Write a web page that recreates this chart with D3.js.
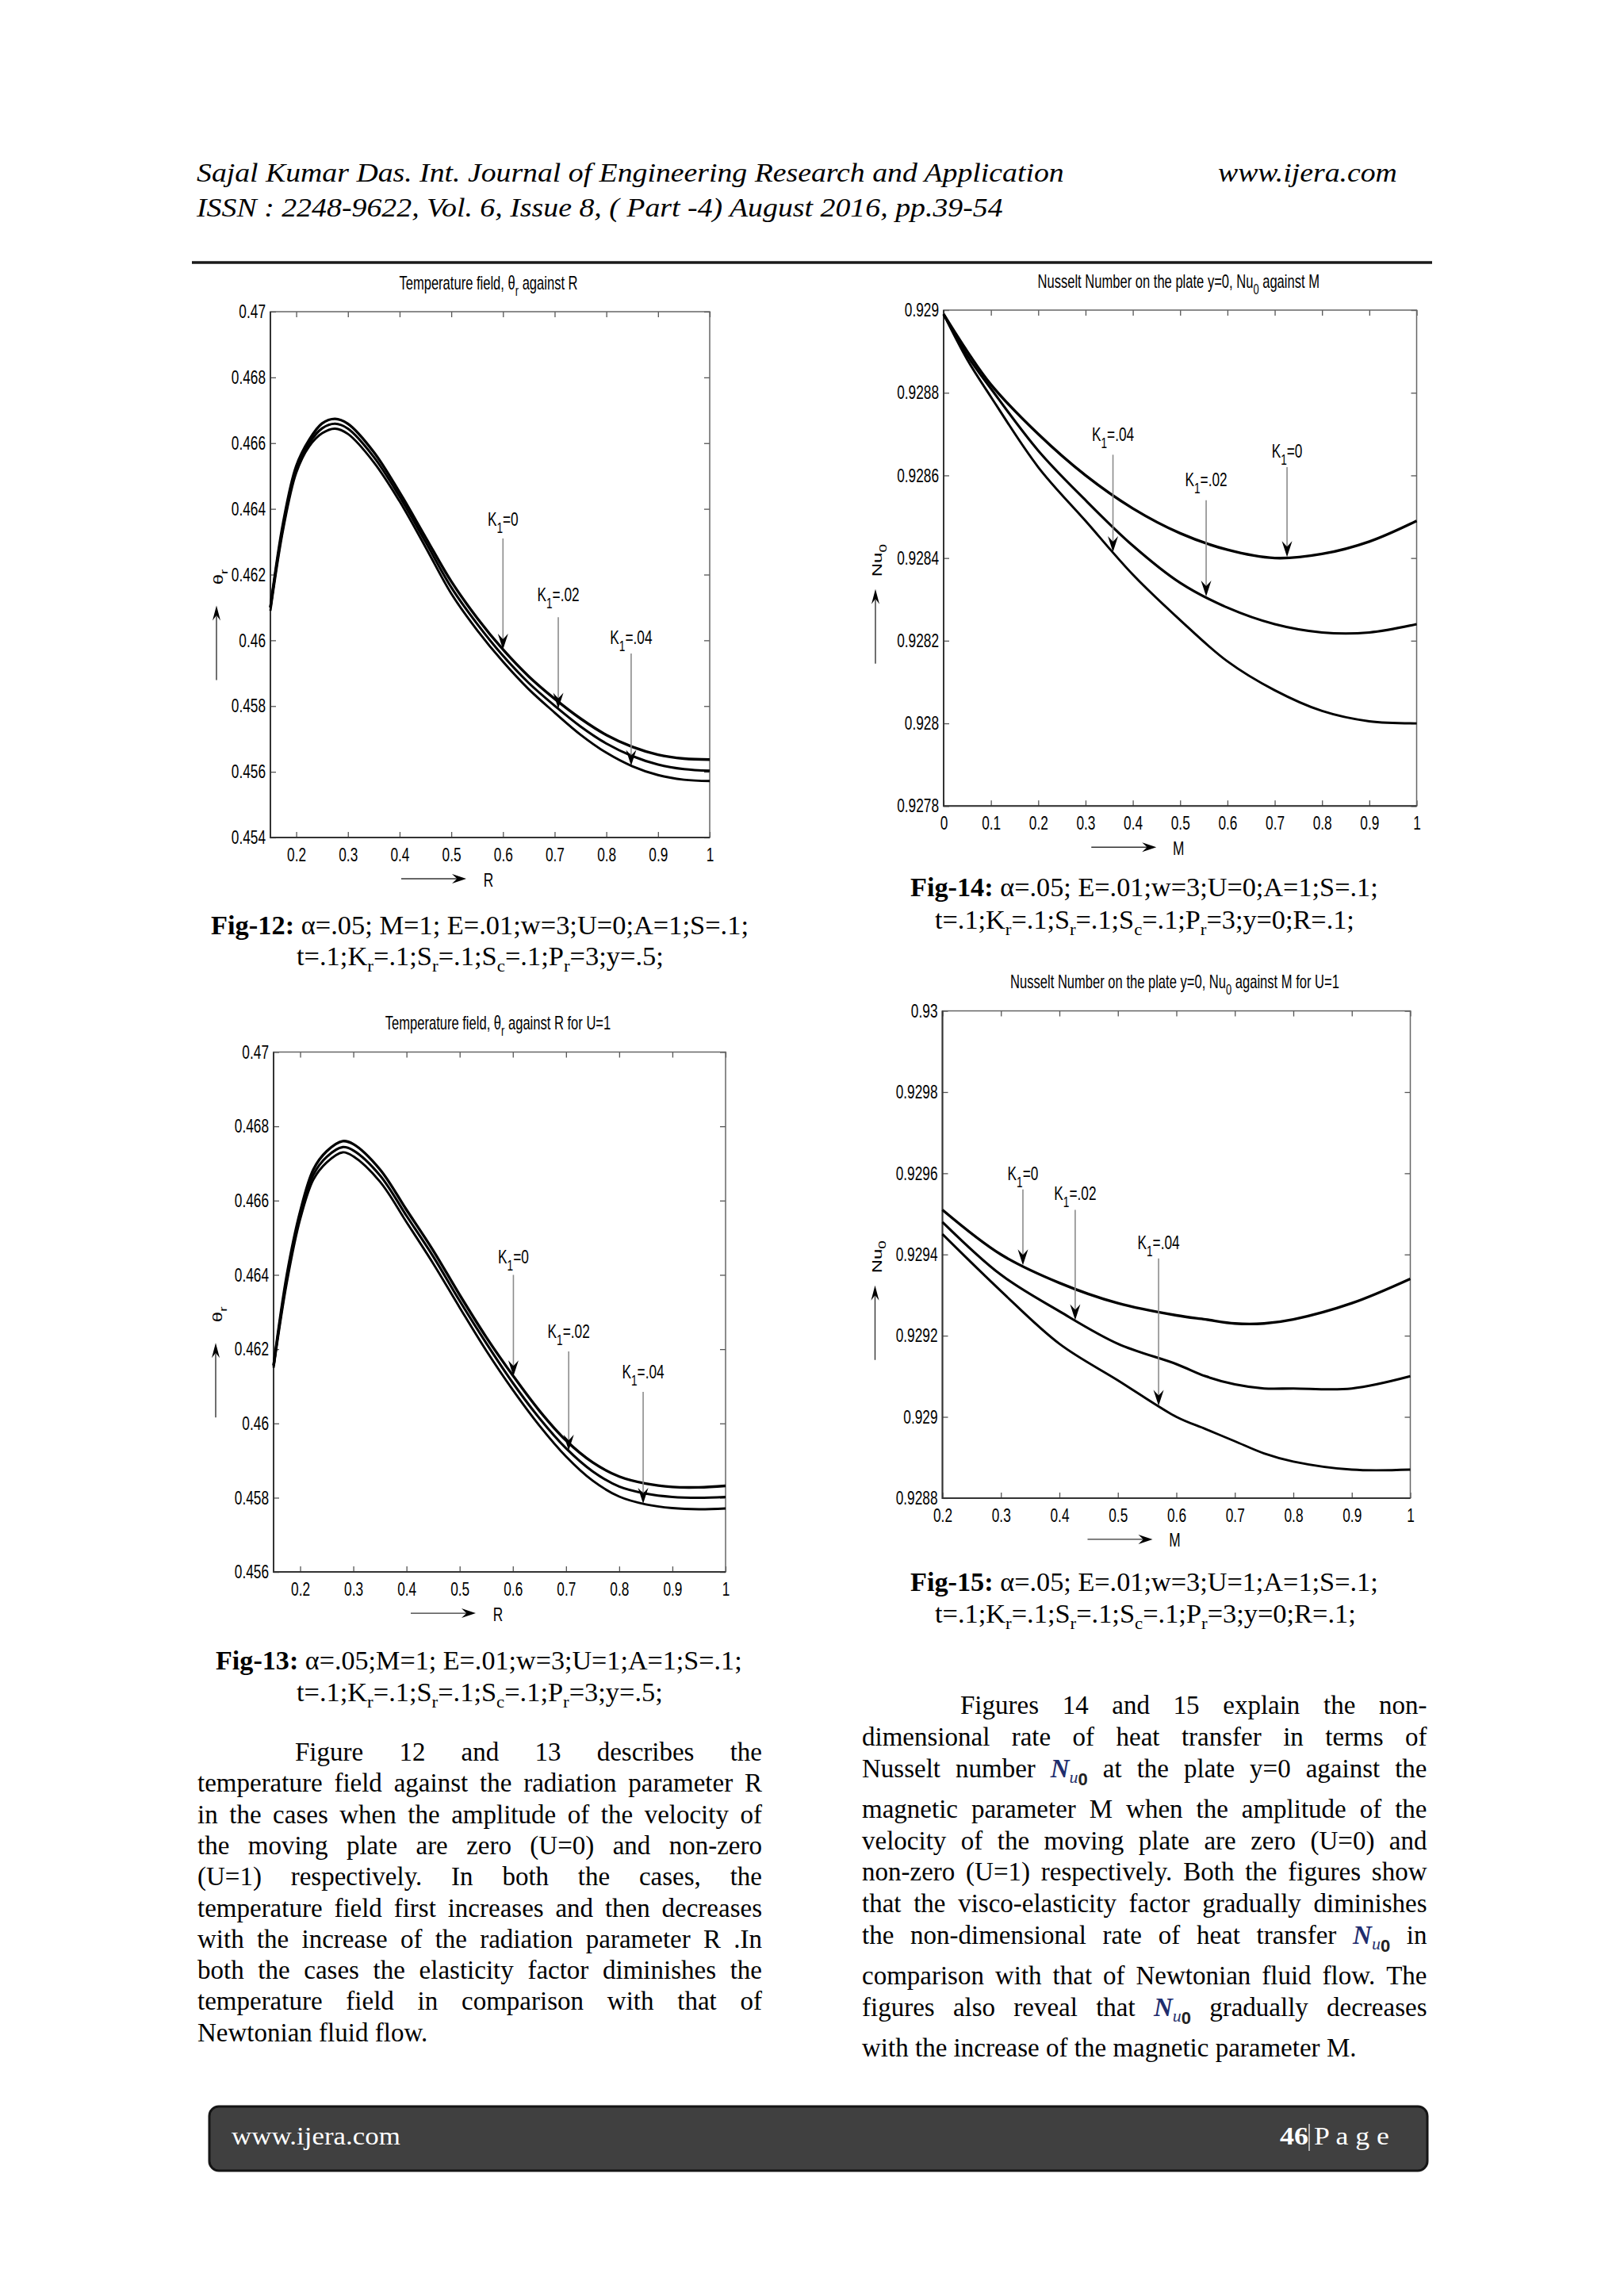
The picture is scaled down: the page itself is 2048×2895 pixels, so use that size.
<!DOCTYPE html>
<html>
<head>
<meta charset="utf-8">
<script src="https://cdn.jsdelivr.net/npm/d3@7"></script>
<style>
body { margin: 0; background: #fff; }
.chart text { font-family: "Liberation Sans", Arial, sans-serif; fill: #000; }
.page { font-family: "Liberation Serif", "Times New Roman", serif; fill: #000; }
</style>
</head>
<body>
<svg id="page"></svg>
<script>
// ---- Fig-12 : theta_r against R (U=0)
var fig12R = [0.15,0.175,0.2,0.225,0.25,0.275,0.3,0.35,0.4,0.45,0.5,0.55,0.6,0.65,0.7,0.75,0.8,0.85,0.9,0.95,1.0];
var fig12K0 = [0.4610,0.4636,0.4653,0.4661,0.4666,0.46674,0.46659,0.46573,0.4645,0.46314,0.46179,0.46068,0.45972,0.4589,0.45822,0.45762,0.45712,0.45676,0.45652,0.4564,0.45637];
var fig12K02 = [0.4610,0.4635,0.4652,0.4660,0.46645,0.46659,0.46644,0.46558,0.46437,0.4630,0.46161,0.4605,0.45953,0.4587,0.45801,0.45738,0.45686,0.45648,0.45622,0.45608,0.45603];
var fig12K04 = [0.4609,0.4634,0.4651,0.4659,0.4663,0.46644,0.46628,0.46542,0.46423,0.46284,0.46142,0.46031,0.45935,0.45851,0.4578,0.45713,0.45658,0.45617,0.4559,0.45576,0.45572];
var fig12XTicks = [0.2,0.3,0.4,0.5,0.6,0.7,0.8,0.9,1];
var fig12YTicks = [0.454,0.456,0.458,0.46,0.462,0.464,0.466,0.468,0.47];
var fig12NoteX = [0.6,0.707,0.848];
var fig12NoteLabelY = [0.4637,0.4614,0.4601];
var fig12NoteTopY = [0.4631,0.4607,0.4596];
var fig12NoteLabels = ["K_1=0","K_1=.02","K_1=.04"];

// ---- Fig-13 : theta_r against R (U=1)
var fig13R = [0.15,0.175,0.2,0.225,0.25,0.28,0.3,0.35,0.4,0.45,0.5,0.55,0.6,0.65,0.7,0.75,0.8,0.85,0.9,0.95,1.0];
var fig13K0 = [0.46156,0.4640,0.4657,0.46684,0.46733,0.4676,0.46752,0.46684,0.46575,0.46466,0.46346,0.46232,0.46129,0.46034,0.45954,0.45895,0.45857,0.45838,0.45829,0.45828,0.45832];
var fig13K02 = [0.46156,0.4639,0.4656,0.4667,0.46718,0.46744,0.46735,0.46668,0.46559,0.4645,0.4633,0.46216,0.46109,0.46014,0.45933,0.45871,0.4583,0.45811,0.45802,0.458,0.45802];
var fig13K04 = [0.4615,0.4638,0.4655,0.46657,0.46703,0.4673,0.46719,0.46651,0.46542,0.46431,0.46312,0.46196,0.4609,0.45994,0.45911,0.45846,0.45803,0.45782,0.45772,0.45769,0.45771];
var fig13XTicks = [0.2,0.3,0.4,0.5,0.6,0.7,0.8,0.9,1];
var fig13YTicks = [0.456,0.458,0.46,0.462,0.464,0.466,0.468,0.47];
var fig13NoteX = [0.601,0.705,0.845];
var fig13NoteLabelY = [0.4645,0.46248,0.4614];
var fig13NoteTopY = [0.464,0.46194,0.46085];
var fig13NoteLabels = ["K_1=0","K_1=.02","K_1=.04"];

// ---- Fig-14 : Nu0 against M (U=0)
var fig14M = [0,0.05,0.1,0.2,0.3,0.4,0.5,0.6,0.7,0.8,0.9,1.0];
var fig14K0 = [0.92899,0.9289,0.92882,0.9287,0.9286,0.92852,0.92846,0.92842,0.9284,0.92841,0.92844,0.92849];
var fig14K02 = [0.92899,0.92889,0.92881,0.92866,0.92854,0.92843,0.92834,0.92828,0.92824,0.92822,0.92822,0.92824];
var fig14K04 = [0.92899,0.92888,0.92879,0.92862,0.92849,0.92836,0.92825,0.92815,0.92808,0.92803,0.928005,0.928];
var fig14XTicks = [0,0.1,0.2,0.3,0.4,0.5,0.6,0.7,0.8,0.9,1];
var fig14YTicks = [0.9278,0.928,0.9282,0.9284,0.9286,0.9288,0.929];
var fig14NoteX = [0.358,0.555,0.726];
var fig14NoteLabelY = [0.9287,0.92859,0.92866];
var fig14NoteTopY = [0.92865,0.92854,0.92862];
var fig14NoteLabels = ["K_1=.04","K_1=.02","K_1=0"];

// ---- Fig-15 : Nu0 against M (U=1)
var fig15M = [0.2,0.3,0.4,0.5,0.6,0.65,0.7,0.75,0.8,0.9,1.0];
var fig15K0 = [0.92951,0.9294,0.92933,0.92928,0.92925,0.92924,0.92923,0.92923,0.92924,0.92928,0.92934];
var fig15K02 = [0.92948,0.92935,0.92926,0.92918,0.92913,0.9291,0.92908,0.92907,0.92907,0.92907,0.9291];
var fig15K04 = [0.92945,0.92931,0.92918,0.92909,0.929,0.92897,0.92894,0.92891,0.92889,0.92887,0.92887];
var fig15XTicks = [0.2,0.3,0.4,0.5,0.6,0.7,0.8,0.9,1];
var fig15YTicks = [0.9288,0.929,0.9292,0.9294,0.9296,0.9298,0.93];
var fig15NoteX = [0.3376,0.427,0.5696];
var fig15NoteLabelY = [0.9296,0.92955,0.92943];
var fig15NoteTopY = [0.92956,0.92951,0.92939];
var fig15NoteLabels = ["K_1=0","K_1=.02","K_1=.04"];

var svg = d3.select("#page").attr("width", 2048).attr("height", 2895);
svg.append("rect").attr("width", 2048).attr("height", 2895).attr("fill", "#fff");

var SQ = 0.72; // figures are squeezed sideways

// text with one-letter subscripts written as _x
function rich(t, s, subSize, shift) {
    var parts = s.split(/_(.)/);
    var off = 0;
    parts.forEach(function(p, i) {
        if (p === "") return;
        var target = (i % 2 === 1) ? shift : 0;
        var ts = t.append("tspan").text(p).attr("dy", target - off);
        if (i % 2 === 1) ts.attr("font-size", subSize);
        off = target;
    });
    return t;
}

function arrowHead(g, tx, ty, dx, dy, L, W) {
    var nx = -dy, ny = dx;
    var p = [[tx, ty],
             [tx - dx * L + nx * W, ty - dy * L + ny * W],
             [tx - dx * L * 0.65, ty - dy * L * 0.65],
             [tx - dx * L - nx * W, ty - dy * L - ny * W]];
    g.append("path").attr("d", "M" + p.join("L") + "Z").attr("fill", "#000");
}

function fmt(v) { return String(+v.toFixed(5)); }

var charts = [
    {left: 341, top: 393, width: 554, height: 663, xDomain: [0.15, 1], yDomain: [0.454, 0.47],
     xs: fig12R, series: [fig12K0, fig12K02, fig12K04], xTicks: fig12XTicks, yTicks: fig12YTicks,
     noteX: fig12NoteX, noteLabelY: fig12NoteLabelY, noteTopY: fig12NoteTopY, noteSeries: [0, 1, 2], noteLabels: fig12NoteLabels,
     title: "Temperature field, θ_r against R", ylab: "θ_r", xlab: "R", ylabDx: -68},
    {left: 345, top: 1326.5, width: 570, height: 655.6, xDomain: [0.15, 1], yDomain: [0.456, 0.47],
     xs: fig13R, series: [fig13K0, fig13K02, fig13K04], xTicks: fig13XTicks, yTicks: fig13YTicks,
     noteX: fig13NoteX, noteLabelY: fig13NoteLabelY, noteTopY: fig13NoteTopY, noteSeries: [0, 1, 2], noteLabels: fig13NoteLabels,
     title: "Temperature field, θ_r against R for U=1", ylab: "θ_r", xlab: "R", ylabDx: -73},
    {left: 1190, top: 391, width: 596.5, height: 625.3, xDomain: [0, 1], yDomain: [0.9278, 0.929],
     xs: fig14M, series: [fig14K0, fig14K02, fig14K04], xTicks: fig14XTicks, yTicks: fig14YTicks,
     noteX: fig14NoteX, noteLabelY: fig14NoteLabelY, noteTopY: fig14NoteTopY, noteSeries: [2, 1, 0], noteLabels: fig14NoteLabels,
     title: "Nusselt Number on the plate y=0, Nu_0 against M", ylab: "Nu_0", xlab: "M", ylabDx: -86},
    {left: 1188.5, top: 1274.6, width: 590, height: 614.3, xDomain: [0.2, 1], yDomain: [0.9288, 0.93],
     xs: fig15M, series: [fig15K0, fig15K02, fig15K04], xTicks: fig15XTicks, yTicks: fig15YTicks,
     noteX: fig15NoteX, noteLabelY: fig15NoteLabelY, noteTopY: fig15NoteTopY, noteSeries: [0, 1, 2], noteLabels: fig15NoteLabels,
     title: "Nusselt Number on the plate y=0, Nu_0 against M for U=1", ylab: "Nu_0", xlab: "M", ylabDx: -85}
];

charts.forEach(function(c) {
    var g = svg.append("g").attr("class", "chart");
    var x = d3.scaleLinear().domain(c.xDomain).range([c.left, c.left + c.width]);
    var y = d3.scaleLinear().domain(c.yDomain).range([c.top + c.height, c.top]);
    var bottom = c.top + c.height, right = c.left + c.width;

    // axes, MATLAB style ticks pointing inward on all four sides
    var ax = g.append("g").attr("transform", "translate(0," + bottom + ")")
        .call(d3.axisBottom(x).tickValues(c.xTicks).tickFormat(fmt).tickSizeInner(-7).tickSizeOuter(0).tickPadding(13));
    var ay = g.append("g").attr("transform", "translate(" + c.left + ",0)")
        .call(d3.axisLeft(y).tickValues(c.yTicks).tickFormat(fmt).tickSizeInner(-7).tickSizeOuter(0).tickPadding(6));
    var at = g.append("g").attr("transform", "translate(0," + c.top + ")")
        .call(d3.axisTop(x).tickValues(c.xTicks).tickFormat("").tickSizeInner(-7).tickSizeOuter(0));
    var ar = g.append("g").attr("transform", "translate(" + right + ",0)")
        .call(d3.axisRight(y).tickValues(c.yTicks).tickFormat("").tickSizeInner(-7).tickSizeOuter(0));
    [ax, ay, at, ar].forEach(function(a) {
        a.select(".domain").remove();
        a.selectAll(".tick line").attr("stroke", "#555").attr("stroke-width", 1.3);
        a.selectAll("text").attr("font-size", 24).attr("font-family", "Liberation Sans, Arial, sans-serif").attr("fill", "#000");
    });
    ax.selectAll(".tick text").attr("transform", "scale(" + SQ + ",1)");
    ay.selectAll(".tick text").attr("x", -6 / SQ).attr("transform", "scale(" + SQ + ",1)");

    g.append("rect").attr("x", c.left).attr("y", c.top).attr("width", c.width).attr("height", c.height)
        .attr("fill", "none").attr("stroke", "#666").attr("stroke-width", 1.5);
    g.append("path").attr("d", "M" + c.left + "," + c.top + "V" + bottom + "H" + right)
        .attr("fill", "none").attr("stroke", "#333").attr("stroke-width", 2);

    // curves
    var line = d3.line().x(function(d, i) { return x(c.xs[i]); }).y(function(d) { return y(d); })
        .curve(d3.curveCatmullRom.alpha(0.5));
    var widths = [3.4, 3.1, 2.9];
    c.series.forEach(function(s, k) {
        g.append("path").attr("d", line(s)).attr("fill", "none").attr("stroke", "#000")
            .attr("stroke-width", widths[k]).attr("stroke-linejoin", "round");
    });

    // K1 annotations
    c.noteX.forEach(function(nx, k) {
        var s = c.series[c.noteSeries[k]];
        var along = d3.scaleLinear().domain(c.xs).range(s);
        var px = x(nx), tipY = y(along(nx)), topY = y(c.noteTopY[k]);
        g.append("line").attr("x1", px).attr("x2", px).attr("y1", topY).attr("y2", tipY - 10)
            .attr("stroke", "#8c8c8c").attr("stroke-width", 1.6);
        arrowHead(g, px, tipY, 0, 1, 20, 6.5);
        var t = g.append("text").attr("text-anchor", "middle").attr("font-size", 24)
            .attr("transform", "translate(" + px + "," + (y(c.noteLabelY[k]) + 8.5) + ") scale(" + SQ + ",1)");
        rich(t, c.noteLabels[k], 19, 9);
    });

    // title
    var tt = g.append("text").attr("text-anchor", "middle").attr("font-size", 23)
        .attr("transform", "translate(" + (c.left + c.width / 2 - 2) + "," + (c.top - 28.5) + ") scale(" + SQ + ",1)");
    rich(tt, c.title, 18, 8);

    // y label with upward arrow
    var lx = c.left + c.ylabDx, cy = c.top + c.height / 2 + 3;
    var yl = g.append("text").attr("text-anchor", "middle").attr("font-size", 24)
        .attr("transform", "translate(" + (lx + 8) + "," + cy + ") rotate(-90) scale(1," + SQ + ")");
    rich(yl, c.ylab, 19, 8);
    g.append("line").attr("x1", lx).attr("x2", lx).attr("y1", cy + 130).attr("y2", cy + 46)
        .attr("stroke", "#333").attr("stroke-width", 1.4);
    arrowHead(g, lx, cy + 36, 0, -1, 19, 5);

    // x label with rightward arrow
    var mx = c.left + c.width / 2, ly = bottom + 53;
    g.append("text").attr("text-anchor", "middle").attr("font-size", 24)
        .attr("transform", "translate(" + (mx - 2) + "," + (ly + 8.5) + ") scale(" + SQ + ",1)")
        .text(c.xlab);
    g.append("line").attr("x1", mx - 112).attr("x2", mx - 40).attr("y1", ly - 1).attr("y2", ly - 1)
        .attr("stroke", "#333").attr("stroke-width", 1.4);
    arrowHead(g, mx - 30, ly - 1, 1, 0, 18, 6);
});

// ---- page text
var page = svg.append("g").attr("class", "page");

// stretch or squeeze one line to a measured width
function fitLine(x, yb, width, build) {
    var t = page.append("text");
    build(t);
    var w = t.node().getBBox().width;
    t.attr("transform", "translate(" + x + "," + yb + ") scale(" + (width / w) + ",1)");
    return t;
}

function header(t, s) { t.attr("font-size", 34).attr("font-style", "italic").text(s); }
fitLine(248, 229, 1094, function(t) { header(t, "Sajal Kumar Das. Int. Journal of Engineering Research and Application"); });
fitLine(1536, 229, 226, function(t) { header(t, "www.ijera.com"); });
fitLine(248, 273, 1018, function(t) { header(t, "ISSN : 2248-9622, Vol. 6, Issue 8, ( Part -4) August 2016, pp.39-54"); });
page.append("line").attr("x1", 242).attr("x2", 1806).attr("y1", 331).attr("y2", 331)
    .attr("stroke", "#1a1a1a").attr("stroke-width", 3.5);

// figure captions
var captions = [
    {fig: "Fig-12: ", l1: "α=.05; M=1; E=.01;w=3;U=0;A=1;S=.1;", l2: "t=.1;K_r=.1;S_r=.1;S_c=.1;P_r=3;y=.5;",
     x1: 266, w1: 678, x2: 374, w2: 463, y1: 1177.5, y2: 1216.5},
    {fig: "Fig-13: ", l1: "α=.05;M=1; E=.01;w=3;U=1;A=1;S=.1;", l2: "t=.1;K_r=.1;S_r=.1;S_c=.1;P_r=3;y=.5;",
     x1: 272, w1: 664, x2: 374, w2: 462, y1: 2104.5, y2: 2145},
    {fig: "Fig-14: ", l1: "α=.05; E=.01;w=3;U=0;A=1;S=.1;", l2: "t=.1;K_r=.1;S_r=.1;S_c=.1;P_r=3;y=0;R=.1;",
     x1: 1148, w1: 590, x2: 1179, w2: 529, y1: 1129.5, y2: 1170.5},
    {fig: "Fig-15: ", l1: "α=.05; E=.01;w=3;U=1;A=1;S=.1;", l2: "t=.1;K_r=.1;S_r=.1;S_c=.1;P_r=3;y=0;R=.1;",
     x1: 1148, w1: 590, x2: 1179, w2: 531, y1: 2005.5, y2: 2045.5}
];
captions.forEach(function(c) {
    fitLine(c.x1, c.y1, c.w1, function(t) {
        t.attr("font-size", 33);
        t.append("tspan").attr("font-weight", "bold").text(c.fig);
        t.append("tspan").text(c.l1);
    });
    fitLine(c.x2, c.y2, c.w2, function(t) {
        t.attr("font-size", 33);
        rich(t, c.l2, 22, 8);
    });
});

// body paragraphs, justified line by line as in the print
var leftLines = [
    "Figure 12 and 13 describes the",
    "temperature field against the radiation parameter R",
    "in the cases when the amplitude of the velocity of",
    "the moving plate are zero (U=0) and non-zero",
    "(U=1) respectively. In both the cases, the",
    "temperature field first increases and then decreases",
    "with the increase of the radiation parameter R .In",
    "both the cases the elasticity factor diminishes the",
    "temperature field in comparison with that of",
    "Newtonian fluid flow."
];
var rightLines = [
    "Figures 14 and 15 explain the non-",
    "dimensional rate of heat transfer in terms of",
    "Nusselt number {Nu} at the plate y=0 against the",
    "magnetic parameter M when the amplitude of the",
    "velocity of the moving plate are zero (U=0) and",
    "non-zero (U=1) respectively. Both the figures show",
    "that the visco-elasticity factor gradually diminishes",
    "the non-dimensional rate of heat transfer {Nu} in",
    "comparison with that of Newtonian fluid flow. The",
    "figures also reveal that {Nu} gradually decreases",
    "with the increase of the magnetic parameter M."
];

function nuToken(t) {
    t.append("tspan").text("N").attr("font-style", "italic").attr("font-weight", "bold").attr("fill", "#1f2d6e");
    t.append("tspan").text("u").attr("font-style", "italic").attr("font-size", 22).attr("dy", 7).attr("fill", "#2a3470");
    t.append("tspan").text("0").attr("font-size", 22).attr("font-family", "Liberation Sans, Arial").attr("font-weight", "bold").attr("dy", 3).attr("fill", "#222");
}

function paragraph(lines, x0, x1, indent, yb, step, extra) {
    var yy = yb;
    lines.forEach(function(ln, i) {
        var sx = i === 0 ? x0 + indent : x0;
        var items = ln.split(" ").map(function(w) {
            var t = page.append("text").attr("font-size", 33).attr("y", yy);
            if (w === "{Nu}") nuToken(t); else t.text(w);
            return {t: t, w: t.node().getComputedTextLength()};
        });
        var total = d3.sum(items, function(d) { return d.w; });
        var gap = (i === lines.length - 1) ? 8.3 : (x1 - sx - total) / (items.length - 1);
        var xx = sx;
        items.forEach(function(it) { it.t.attr("x", xx); xx += it.w + gap; });
        yy += step + (ln.indexOf("{Nu}") >= 0 ? extra : 0);
    });
}
paragraph(leftLines, 249, 961, 123, 2220, 39.3, 0);
paragraph(rightLines, 1087, 1799.5, 124, 2161.4, 39.6, 12);

// footer bar
page.append("rect").attr("x", 264).attr("y", 2656).attr("width", 1536).attr("height", 81).attr("rx", 12)
    .attr("fill", "#404040").attr("stroke", "#151515").attr("stroke-width", 3);
fitLine(292, 2704, 213, function(t) { t.attr("font-size", 32).attr("fill", "#fff").text("www.ijera.com"); });
fitLine(1614, 2704, 36, function(t) { t.attr("font-size", 32).attr("font-weight", "bold").attr("fill", "#fff").text("46"); });
page.append("line").attr("x1", 1651).attr("x2", 1651).attr("y1", 2678).attr("y2", 2712).attr("stroke", "#fff").attr("stroke-width", 1.2);
fitLine(1657, 2704, 95, function(t) { t.attr("font-size", 32).attr("fill", "#fff").text("P a g e"); });
</script>
</body>
</html>
